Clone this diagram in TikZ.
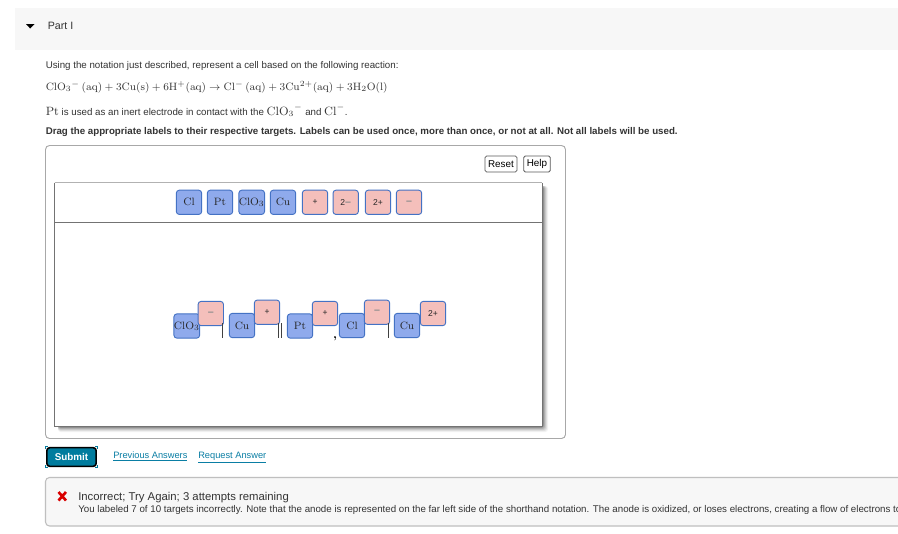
\documentclass[tikz,border=0pt]{standalone}
\usepackage[no-math]{fontspec}
\setmainfont{Liberation Sans}
\newfontfamily\lmfont{Latin Modern Roman}
\definecolor{txt}{HTML}{333333}
\definecolor{tileblue}{HTML}{8FAAEC}
\definecolor{tilepink}{HTML}{F4BFBB}
\definecolor{tileedge}{HTML}{4472C4}
\definecolor{barbg}{HTML}{F7F7F7}
\definecolor{subfill}{HTML}{007C9E}
\definecolor{linkc}{HTML}{0A7EA4}
\definecolor{edgeg}{HTML}{A8A8A8}
\newcommand{\fs}[1]{\fontsize{#1}{#1}\selectfont}
\newcommand{\dashm}{\textcolor{black!45}{\bfseries\fs{8}–}}
\tikzset{
  x=0.75pt,y=-0.75pt,
  tile/.style={draw=tileedge,line width=0.7pt,rounded corners=2.2pt,minimum width=19pt,minimum height=18.2pt,inner sep=0pt,text=black!85,font=\lmfont\fs{8}},
  bluetile/.style={tile,fill=tileblue},
  pinktile/.style={tile,fill=tilepink,font=\fs{6.4}},
  para/.style={anchor=base west,inner sep=0pt,text=txt},
  btn/.style={draw=black!65,line width=0.6pt,rounded corners=1.2pt,fill=white,inner sep=0pt,font=\fs{7.4},text=black},
  cellbar/.style={draw=black!75,line width=0.7pt},
  linklabel/.style={anchor=base west,inner sep=0pt,text=linkc,font=\fs{6.95}},
  corner/.style={draw=subfill,line width=0.5pt},
}
\begin{document}
\begin{tikzpicture}
\useasboundingbox (0,0) rectangle (898,533);
\clip (0,0) rectangle (898,533);
\fill[white] (0,0) rectangle (898,533);
% Part bar
\fill[barbg] (15,8) rectangle (898,50);
\fill[black] (26,24) -- (34.5,24) -- (30.2,28.5) -- cycle;
\node[para,font=\fs{8}] (part) at (47.5,29) {Part I};
% Text
\node[para,font=\fs{7.3}] (intro) at (45.5,68) {Using the notation just described, represent a cell based on the following reaction:};
\node[para,font=\lmfont\fs{8}] (eqn) at (45.5,90.5) {$\mathrm{ClO_3}^-\,\mathrm{(aq)}+3\mathrm{Cu(s)}+6\mathrm{H}^+\mathrm{(aq)}\rightarrow\mathrm{Cl}^-\,\mathrm{(aq)}+3\mathrm{Cu}^{2+}\mathrm{(aq)}+3\mathrm{H_2O(l)}$};
\node[para,font=\fs{7.3}] (ptline) at (45.5,115) {{\lmfont\fs{9}$\mathrm{Pt}$} is used as an inert electrode in contact with the {\lmfont\fs{9}$\mathrm{ClO_3}^-$} and {\lmfont\fs{9}$\mathrm{Cl}^-$}.};
\node[para,font=\bfseries\fs{7.3}] (drag) at (45.5,134) {Drag the appropriate labels to their respective targets. Labels can be used once, more than once, or not at all. Not all labels will be used.};
% Panel
\draw[edgeg,line width=0.7pt,rounded corners=3pt] (45.5,145.5) rectangle (565.5,438.5);
\node[btn,minimum width=24pt,minimum height=12pt] (reset) at (501,164) {Reset};
\node[btn,minimum width=20pt,minimum height=12pt] (help) at (537,164) {Help};
% Shadow of the canvas
\foreach \d/\o in {6/0.05,5/0.07,4/0.09,3/0.12,2/0.16,1/0.22}{
  \fill[black,opacity=\o,rounded corners=2pt] (58,186) rectangle (542+\d,426+\d);
}
\fill[white] (54.5,182.5) rectangle (542,426);
\draw[black!30,line width=0.6pt] (54.5,182.5) -- (542,182.5);
\draw[black!55,line width=0.7pt] (54.5,222) -- (542,222);
\draw[black!55,line width=0.7pt] (54.5,182.5) -- (54.5,426) -- (542,426) -- (542,182.5);
% Label pool
\node[bluetile] (poolcl) at (189,202.3) {Cl};
\node[bluetile] (poolpt) at (220,202.3) {Pt};
\node[bluetile] (poolclo) at (251.7,202.3) {ClO$_3$};
\node[bluetile] (poolcu) at (283,202.3) {Cu};
\node[pinktile] (poolplus) at (315,202.3) {+};
\node[pinktile] (pooltwom) at (345.7,202.3) {2\dashm};
\node[pinktile] (pooltwop) at (378,202.3) {2+};
\node[pinktile] (poolminus) at (409,202.3) {\dashm};
% Placed labels
\node[bluetile] (clo) at (186.8,326) {ClO$_3$};
\node[pinktile] (m1) at (210.8,313.5) {\dashm};
\node[bluetile] (cu1) at (242,325.5) {Cu};
\node[pinktile] (p1) at (267,312.2) {+};
\node[bluetile] (pt) at (300,326) {Pt};
\node[pinktile] (p2) at (325,313.5) {+};
\node[bluetile] (cl) at (352,325.5) {Cl};
\node[pinktile] (m2) at (377,312.2) {\dashm};
\node[bluetile] (cu2) at (407,325.5) {Cu};
\node[pinktile] (twop) at (433,313.5) {2+};
% Cell notation marks
\draw[cellbar] (222.3,323) -- (222.3,338);
\draw[cellbar] (278.4,323) -- (278.4,338);
\draw[cellbar] (281.8,323) -- (281.8,338);
\draw[cellbar] (388.5,323) -- (388.5,338);
\node[anchor=base,inner sep=0pt,text=black,font=\lmfont\bfseries\fs{9}] (comma) at (335,338) {,};
% Submit
\draw[corner] (45.5,449) |- (48,446.5) (95,446.5) -| (97.5,449) (97.5,465) |- (95,467.5) (48,467.5) -| (45.5,465);
\node[draw=black,line width=1.2pt,fill=subfill,rounded corners=2.2pt,minimum width=37pt,minimum height=14pt,inner sep=0pt,text=white,font=\bfseries\fs{7.4}] (submit) at (71.5,457) {Submit};
\node[linklabel] (prev) at (113,458.5) {\underline{Previous Answers}};
\node[linklabel] (req) at (198,458.5) {\underline{Request Answer}};
% Feedback
\draw[black!25,line width=0.8pt,fill=barbg,rounded corners=3pt] (45.5,477.5) rectangle (910,526);
\draw[red!85!black,line width=2pt] (58.5,492) -- (66,500.5) (66,492) -- (58.5,500.5);
\node[para,font=\fs{8.5}] (fbhead) at (78,500) {Incorrect; Try Again; 3 attempts remaining};
\node[para,font=\fs{7.3}] (fbbody) at (78,512) {You labeled 7 of 10 targets incorrectly. Note that the anode is represented on the far left side of the shorthand notation. The anode is oxidized, or loses electrons, creating a flow of electrons to};
\end{tikzpicture}
\end{document}
